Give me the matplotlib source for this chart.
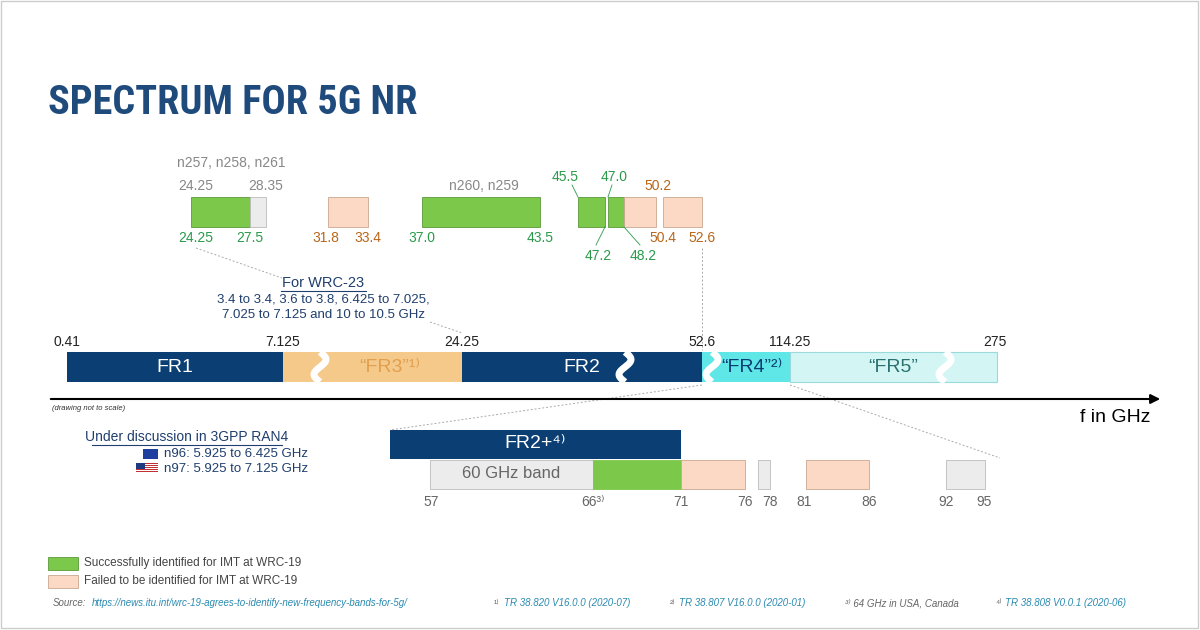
import matplotlib.pyplot as plt
import matplotlib.patches as mpatches
import numpy as np

plt.rcParams['font.family'] = ['Liberation Sans', 'DejaVu Sans']

NAVY = '#0b3f73'
GREEN = '#7cc84a'
PEACH = '#fcd9c4'
GREY = '#ececec'
ORANGE = '#f5c98a'
CYAN = '#5fe6e6'
LCYAN = '#d3f6f5'
GTXT = '#2a9a4a'
OTXT = '#b8661a'

# main frequency ranges (drawing not to scale): label, colour, x0, x1, break position
main_names = ['FR1', '“FR3”¹⁾', 'FR2', '“FR4”²⁾', '“FR5”']
main_colors = [NAVY, ORANGE, NAVY, CYAN, LCYAN]
main_text_colors = ['white', '#e0a050', 'white', '#0b3f73', '#2a7070']
main_edges = [67, 283, 462, 702, 790, 997]
main_breaks = [None, 320, 625, 712, 945]
main_ticks = ['0.41', '7.125', '24.25', '52.6', '114.25', '275']
main_tick_x = [67, 283, 462, 702, 790, 995]

# top bands (mmWave identified at WRC-19)
top_x0 = [191, 250, 328, 422, 578, 608, 624, 663]
top_x1 = [250, 266, 368, 540, 605, 624, 656, 702]
top_col = [GREEN, GREY, PEACH, GREEN, GREEN, GREEN, PEACH, PEACH]

# lower bands (FR2+)
low_x0 = [430, 593, 681, 758, 806, 946]
low_x1 = [593, 681, 745, 770, 869, 985]
low_col = [GREY, GREEN, PEACH, GREY, PEACH, GREY]
low_ticks = ['57', '66³⁾', '71', '76', '78', '81', '86', '92', '95']
low_tick_x = [431, 593, 681, 745, 770, 804, 869, 946, 984]

fig = plt.figure(figsize=(12, 6.3), dpi=100)
ax = fig.add_axes([0, 0, 1, 1])
ax.set_xlim(0, 1200)
ax.set_ylim(630, 0)
ax.axis('off')
ax.add_patch(mpatches.Rectangle((1, 1), 1197, 627, fill=False, ec='#cccccc', lw=1))

ax.text(48, 103, 'SPECTRUM FOR 5G NR', fontsize=29, fontweight='bold', color='#1f4a7c',
        va='center', family=['Roboto Condensed', 'Roboto', 'DejaVu Sans'])

# main bar
for i, name in enumerate(main_names):
    x0, x1 = main_edges[i], main_edges[i + 1]
    ax.add_patch(mpatches.Rectangle((x0, 352), x1 - x0, 30, color=main_colors[i], lw=0))
    b = main_breaks[i]
    if b is not None:
        yy = np.linspace(352, 382, 40)
        xx = b + 6 * np.sin((yy - 352) / 30 * 2 * np.pi)
        ax.plot(xx, yy, color='white', lw=5, solid_capstyle='butt')
    cx = (x0 + x1) / 2 if i != 3 else 752
    if i == 1:
        cx = 390
    ax.text(cx, 367, name, color=main_text_colors[i], fontsize=14, ha='center', va='center')
ax.add_patch(mpatches.Rectangle((790, 352), 207, 30, fill=False, ec='#9adada', lw=0.8))
for t, x in zip(main_ticks, main_tick_x):
    ax.text(x, 342, t, fontsize=10, ha='center', va='center', color='#222222')

# frequency axis
ax.annotate('', xy=(1163, 399), xytext=(48, 399),
            arrowprops=dict(arrowstyle='-|>', color='black', lw=1.5, mutation_scale=14))
ax.text(1150, 418, 'f in GHz', fontsize=14, ha='right', va='center')
ax.text(52, 408, '(drawing not to scale)', fontsize=5.5, style='italic', va='center', color='#333333')

# top bands
for x0, x1, c in zip(top_x0, top_x1, top_col):
    ec = '#c9a890' if c == PEACH else ('#bbbbbb' if c == GREY else '#5a9a3a')
    ax.add_patch(mpatches.Rectangle((x0, 197), x1 - x0, 30, fc=c, ec=ec, lw=0.6))

grey_t = '#888888'
ax.text(231, 163, 'n257, n258, n261', fontsize=10, ha='center', color=grey_t, va='center')
ax.text(196, 186, '24.25', fontsize=10, ha='center', color=grey_t, va='center')
ax.text(266, 186, '28.35', fontsize=10, ha='center', color=grey_t, va='center')
ax.text(484, 186, 'n260, n259', fontsize=10, ha='center', color=grey_t, va='center')
for t, x, c in [('24.25', 196, GTXT), ('27.5', 250, GTXT), ('31.8', 326, OTXT), ('33.4', 368, OTXT),
                ('37.0', 422, GTXT), ('43.5', 540, GTXT), ('50.4', 663, OTXT), ('52.6', 702, OTXT)]:
    ax.text(x, 238, t, fontsize=10, ha='center', va='center', color=c)
ax.text(565, 177, '45.5', fontsize=10, ha='center', va='center', color=GTXT)
ax.text(614, 177, '47.0', fontsize=10, ha='center', va='center', color=GTXT)
ax.text(658, 186, '50.2', fontsize=10, ha='center', va='center', color=OTXT)
ax.text(598, 256, '47.2', fontsize=10, ha='center', va='center', color=GTXT)
ax.text(643, 256, '48.2', fontsize=10, ha='center', va='center', color=GTXT)
for seg in [((572, 578), (185, 197)), ((612, 608), (185, 197)), ((605, 596), (227, 245)),
            ((624, 640), (227, 245))]:
    ax.plot(seg[0], seg[1], color=GTXT, lw=0.6)

# WRC-23 note
ax.text(323, 283, 'For WRC-23', fontsize=10.5, ha='center', va='center', color='#1f3f6e')
ax.plot([281, 366], [291, 291], color='#1f3f6e', lw=0.8)
ax.text(323, 299, '3.4 to 3.4, 3.6 to 3.8, 6.425 to 7.025,', fontsize=9.5, ha='center', va='center', color='#1f3f6e')
ax.text(323, 315, '7.025 to 7.125 and 10 to 10.5 GHz', fontsize=9.5, ha='center', va='center', color='#1f3f6e')

# dashed guides
dash = dict(color='#aaaaaa', lw=0.7, ls=(0, (2, 2)))
ax.plot([196, 282], [248, 278], **dash)
ax.plot([430, 462], [322, 333], **dash)
ax.plot([702, 702], [248, 350], **dash)
ax.plot([702, 390], [385, 430], **dash)
ax.plot([790, 1000], [385, 458], **dash)

# lower bands (FR2+)
ax.add_patch(mpatches.Rectangle((390, 430), 291, 29, color=NAVY, lw=0))
ax.text(535, 444, 'FR2+⁴⁾', fontsize=14, color='white', ha='center', va='center')
for x0, x1, c in zip(low_x0, low_x1, low_col):
    ec = '#c9a890' if c == PEACH else ('#bbbbbb' if c == GREY else GREEN)
    ax.add_patch(mpatches.Rectangle((x0, 460), x1 - x0, 29, fc=c, ec=ec, lw=0.6))
ax.text(511, 474, '60 GHz band', fontsize=12, color='#666666', ha='center', va='center')
for t, x in zip(low_ticks, low_tick_x):
    ax.text(x, 502, t, fontsize=10, ha='center', va='center', color='#666666')

# RAN4 note
ax.text(187, 437, 'Under discussion in 3GPP RAN4', fontsize=10, ha='center', va='center', color='#1f3f6e')
ax.plot([92, 282], [445, 445], color='#1f3f6e', lw=0.8)
ax.add_patch(mpatches.Rectangle((143, 449), 15, 10, color='#1f3f9e', lw=0))
ax.text(164, 454, 'n96: 5.925 to 6.425 GHz', fontsize=9.5, va='center', color='#1f3f6e')
for k in range(5):
    ax.add_patch(mpatches.Rectangle((136, 463 + 2 * k), 22, 1, color='#c03030', lw=0))
ax.add_patch(mpatches.Rectangle((136, 463), 9, 6, color='#203a80', lw=0))
ax.text(164, 469, 'n97: 5.925 to 7.125 GHz', fontsize=9.5, va='center', color='#1f3f6e')

# legend
ax.add_patch(mpatches.Rectangle((48, 557), 30, 13, fc=GREEN, ec='#5a9a3a', lw=0.6))
ax.add_patch(mpatches.Rectangle((48, 575), 30, 13, fc=PEACH, ec='#c9a890', lw=0.6))
ax.text(84, 563, 'Successfully identified for IMT at WRC-19', fontsize=8.5, va='center', color='#444444')
ax.text(84, 581, 'Failed to be identified for IMT at WRC-19', fontsize=8.5, va='center', color='#444444')

# footnotes
link = '#2a8ab0'
ax.text(53, 603, 'Source:', fontsize=7, style='italic', va='center', color='#666666')
ax.text(92, 603, 'https://news.itu.int/wrc-19-agrees-to-identify-new-frequency-bands-for-5g/',
        fontsize=7, style='italic', va='center', color=link)
ax.text(494, 603, '¹⁾', fontsize=7, va='center', color='#666666')
ax.text(504, 603, 'TR 38.820 V16.0.0 (2020-07)', fontsize=7, style='italic', va='center', color=link)
ax.text(670, 603, '²⁾', fontsize=7, va='center', color='#666666')
ax.text(679, 603, 'TR 38.807 V16.0.0 (2020-01)', fontsize=7, style='italic', va='center', color=link)
ax.text(845, 603, '³⁾ 64 GHz in USA, Canada', fontsize=7, style='italic', va='center', color='#666666')
ax.text(995, 603, '⁴⁾', fontsize=7, va='center', color='#666666')
ax.text(1005, 603, 'TR 38.808 V0.0.1 (2020-06)', fontsize=7, style='italic', va='center', color=link)

fig.savefig('out.png', dpi=100)
